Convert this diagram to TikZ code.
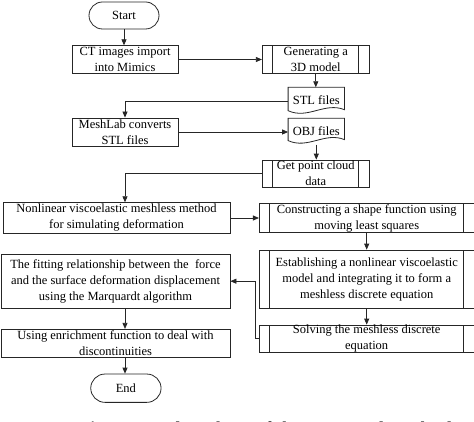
\documentclass[tikz,border=0pt]{standalone}
\usepackage{fontspec}
\usepackage{graphicx}
\setmainfont{Liberation Serif}
\usetikzlibrary{shapes.misc,arrows.meta,calc}
\newcommand{\docwave}[1]{%
  \draw[ln] let \p1=(#1.north west), \p2=(#1.south east), \n1={\x2-\x1} in
  (\p1) -- (\x2,\y1) -- (\x2,\y2+5pt) .. controls (\x2-0.35*\n1,\y2+13pt) and (\x1+0.35*\n1,\y2-5pt) .. (\x1,\y2+4pt) -- cycle;}
\begin{document}
\begin{tikzpicture}[x=1pt,y=-1pt,
  ln/.style={draw=black!85,line width=0.8pt},
  txt/.style={font=\fontsize{12.5}{16}\selectfont,align=center,inner sep=0pt},
  box/.style={ln,txt,rectangle},
  term/.style={box,rounded rectangle},
  subproc/.style={box,path picture={
      \draw[ln] ([xshift=10.5pt]path picture bounding box.north west) -- ([xshift=10.5pt]path picture bounding box.south west);
      \draw[ln] ([xshift=-10.5pt]path picture bounding box.north east) -- ([xshift=-10.5pt]path picture bounding box.south east);}},
  docnode/.style={txt,rectangle},
  arr/.style={ln,-{Triangle[length=6pt,width=5pt]}}]
\useasboundingbox (0,0) rectangle (474,422);

\node[term,minimum width=70pt,minimum height=27pt] (start) at (124,15.5) {Start};
\node[box,minimum width=106pt,minimum height=27.5pt] (ct) at (125,59.5) {CT images import\\into Mimics};
\node[subproc,minimum width=107pt,minimum height=27.5pt] (gen) at (315.8,59.5) {Generating a\\3D model};
\node[docnode,minimum width=56pt,minimum height=27pt] (stl) at (316.3,101) {\raisebox{2pt}{STL files}};
\docwave{stl}
\node[box,minimum width=106pt,minimum height=28pt] (mesh) at (125,132) {MeshLab converts\\STL files};
\node[docnode,minimum width=56pt,minimum height=26pt] (obj) at (316.3,131.4) {\raisebox{1.5pt}{OBJ files}};
\docwave{obj}
\node[subproc,minimum width=107pt,minimum height=27.3pt] (gpc) at (315.8,173.7) {Get point cloud\\data};
\node[box,minimum width=227pt,minimum height=30.6pt] (nonl) at (116.5,218) {Nonlinear viscoelastic meshless method\\for simulating deformation};
\node[subproc,minimum width=214.7pt,minimum height=29.4pt] (cons) at (366.7,218) {Constructing a shape function using\\moving least squares};
\node[subproc,minimum width=214.7pt,minimum height=58.3pt] (est) at (366.7,279.2) {Establishing a nonlinear viscoelastic\\model and integrating it to form a\\meshless discrete equation};
\node[subproc,minimum width=214.7pt,minimum height=27.3pt] (solv) at (366.7,338.7) {Solving the meshless discrete\\equation};
\node[box,minimum width=229pt,minimum height=54.3pt] (fit) at (115.5,281.2) {The fitting relationship between the \ force\\and the surface deformation displacement\\using the Marquardt algorithm};
\node[box,minimum width=229pt,minimum height=28pt] (use) at (115.5,343.3) {Using enrichment function to deal with\\discontinuities};
\node[term,minimum width=70.3pt,minimum height=28.3pt] (end) at (125.9,388.2) {End};

\draw[arr] (start.south) -- (start.south |- ct.north);
\draw[arr] (ct.east) -- (gen.west);
\draw[arr] (gen.south) -- (gen.south |- stl.north);
\draw[arr] (stl.west) -| (mesh.north);
\draw[arr] (mesh.east) -- (mesh.east -| obj.west);
\draw[arr] (obj.south) -- (obj.south |- gpc.north);
\draw[arr] (gpc.west) -| (mesh.south |- nonl.north);
\draw[arr] (nonl.east) -- (cons.west);
\draw[arr] (cons.south) -- (est.north);
\draw[arr] (est.south) -- (solv.north);
\draw[arr] (solv.west) -- ++(-3.5,0) |- (fit.east);
\draw[arr] (mesh.south |- fit.south) -- (mesh.south |- use.north);
\draw[arr] (mesh.south |- use.south) -- (mesh.south |- end.north);

\node[anchor=north west,inner sep=0pt] (cap) at (77,421.5) {\resizebox{375pt}{!}{\textbf{Figure 1.} Flowchart of the proposed method}};
\end{tikzpicture}
\end{document}
